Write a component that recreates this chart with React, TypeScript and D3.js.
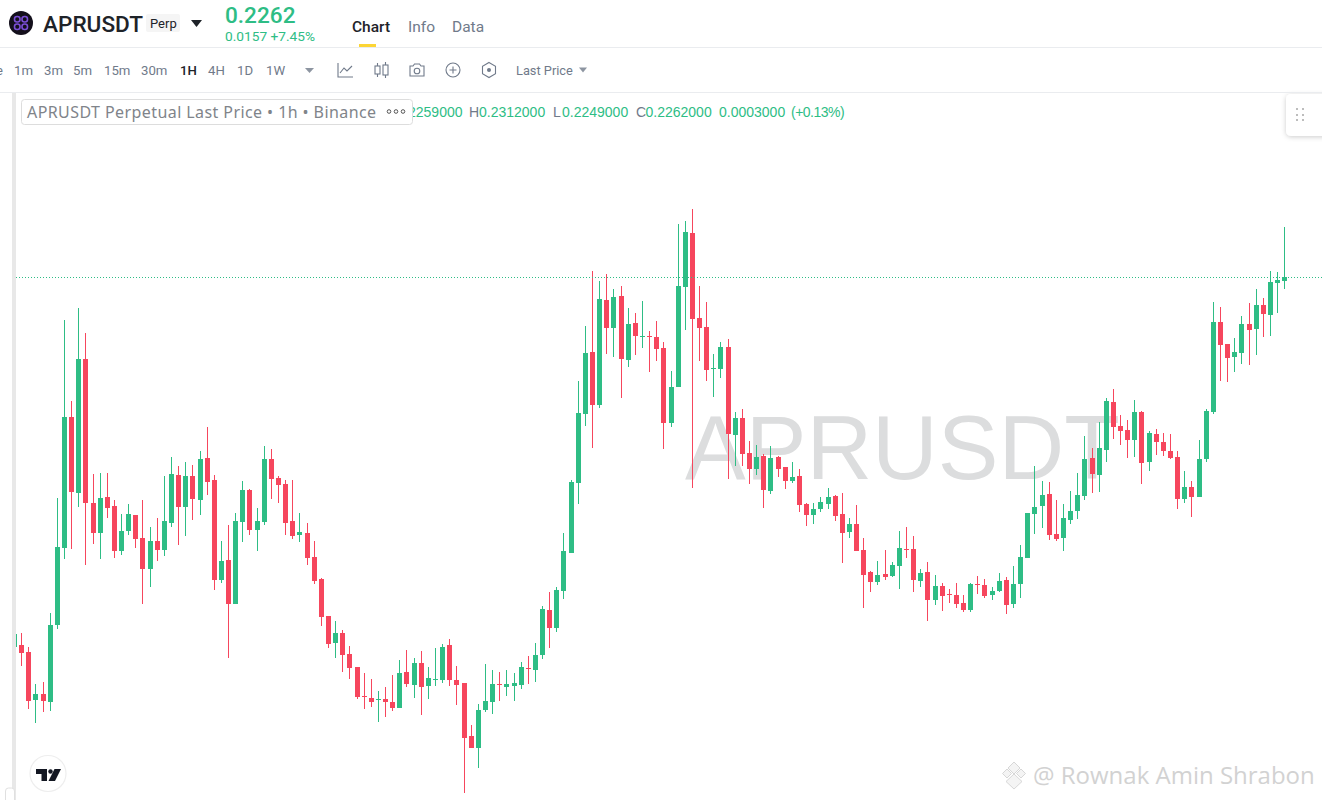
import { useRef, useEffect } from 'react'
import * as d3 from 'd3'

const symbol = 'APRUSDT'
const timeframes = ['1m', '3m', '5m', '15m', '30m', '1H', '4H', '1D', '1W']
const timeframeX = [14, 44, 73, 104, 141, 180, 208, 237, 266]
const tabs = ['Chart', 'Info', 'Data']
const tabX = [352, 408, 452]
const lastPrice = 0.2262

// one entry per hourly candle, oldest first. the first one is cut off by the left edge
const highs = [
  0.1905, 0.1906, 0.1892, 0.1855, 0.1857, 0.1926, 0.2041, 0.2219, 0.2138, 0.2231, 0.2206,
  0.2065, 0.2066, 0.2066, 0.2039, 0.2025, 0.2035, 0.2024, 0.2039, 0.2012, 0.2021,
  0.2063, 0.2082, 0.2073, 0.2077, 0.2074, 0.2088, 0.2112, 0.2064, 0.1998, 0.2014,
  0.2026, 0.2058, 0.205, 0.2031, 0.2093, 0.209, 0.2063, 0.2059, 0.2059, 0.2026,
  0.2016, 0.1998, 0.1961, 0.1923, 0.1918, 0.1909, 0.1893, 0.1872, 0.1866, 0.186,
  0.1848, 0.1852, 0.1864, 0.1879, 0.1889, 0.1881, 0.1888, 0.1872, 0.1891, 0.1895,
  0.19, 0.1873, 0.1856, 0.1814, 0.1835, 0.1875, 0.1869, 0.1867, 0.1869, 0.1866,
  0.1877, 0.1883, 0.1896, 0.1933, 0.1947, 0.1952, 0.2006, 0.2059, 0.2158, 0.2213,
  0.2268, 0.2258, 0.2265, 0.225, 0.2253, 0.2231, 0.2226, 0.2238, 0.2208, 0.2218,
  0.2197, 0.2168, 0.2315, 0.2318, 0.233, 0.2253, 0.2237, 0.2185, 0.2197, 0.22,
  0.2127, 0.213, 0.2098, 0.2094, 0.2085, 0.2093, 0.2083, 0.2072, 0.2077, 0.207,
  0.2036, 0.2036, 0.2042, 0.2051, 0.2044, 0.2046, 0.2021, 0.2034, 0.2001, 0.1968,
  0.1978, 0.1989, 0.1977, 0.2008, 0.2012, 0.2003, 0.197, 0.1977, 0.1964, 0.1956,
  0.195, 0.1956, 0.1944, 0.1956, 0.1963, 0.196, 0.1952, 0.1966, 0.1962, 0.1973,
  0.1994, 0.2026, 0.2073, 0.2058, 0.2057, 0.2039, 0.2035, 0.2048, 0.2066, 0.2103,
  0.2091, 0.2117, 0.2141, 0.215, 0.2124, 0.2119, 0.2139, 0.2128, 0.2108, 0.211,
  0.2106, 0.2105, 0.2088, 0.2068, 0.2058, 0.2099, 0.213, 0.2237, 0.2232, 0.2195,
  0.2201, 0.2223, 0.2236, 0.225, 0.2241, 0.2268, 0.2267, 0.2312,
]

const lows = [
  0.1892, 0.1873, 0.183, 0.1816, 0.1827, 0.1828, 0.191, 0.198, 0.199, 0.2032, 0.1974,
  0.1995, 0.198, 0.2021, 0.1981, 0.1984, 0.2004, 0.1991, 0.1935, 0.1952, 0.1978,
  0.1983, 0.2012, 0.1994, 0.2003, 0.2019, 0.2024, 0.2044, 0.1949, 0.1956, 0.1881,
  0.1935, 0.1997, 0.2004, 0.1988, 0.2014, 0.204, 0.2036, 0.2004, 0.2, 0.1997,
  0.1974, 0.1955, 0.1913, 0.1891, 0.1881, 0.1867, 0.186, 0.184, 0.183, 0.1832,
  0.1817, 0.1822, 0.1828, 0.1831, 0.1852, 0.1841, 0.1824, 0.184, 0.1853, 0.1856,
  0.1853, 0.1834, 0.1746, 0.1791, 0.1771, 0.1827, 0.1825, 0.1838, 0.1843, 0.1838,
  0.185, 0.1855, 0.1857, 0.188, 0.1891, 0.1907, 0.194, 0.1986, 0.2035, 0.2113,
  0.2091, 0.2131, 0.2185, 0.2182, 0.2141, 0.2172, 0.2184, 0.2191, 0.2167, 0.2178,
  0.209, 0.2112, 0.2152, 0.2209, 0.2051, 0.2178, 0.2158, 0.2142, 0.2161, 0.206,
  0.2073, 0.2073, 0.2055, 0.2064, 0.2031, 0.2045, 0.2062, 0.205, 0.2056, 0.2027,
  0.2013, 0.2015, 0.2027, 0.203, 0.2018, 0.1976, 0.2001, 0.1988, 0.1931, 0.1947,
  0.1954, 0.1959, 0.1962, 0.195, 0.1981, 0.1947, 0.1952, 0.1918, 0.1934, 0.1928,
  0.1936, 0.1931, 0.1927, 0.1927, 0.1945, 0.1941, 0.1939, 0.1947, 0.1925, 0.1931,
  0.1941, 0.1981, 0.2005, 0.2011, 0.1999, 0.1998, 0.1988, 0.2015, 0.202, 0.2039,
  0.2046, 0.2047, 0.2077, 0.21, 0.2094, 0.2081, 0.2082, 0.2055, 0.2068, 0.2084,
  0.2083, 0.208, 0.203, 0.2036, 0.2022, 0.2042, 0.2077, 0.2125, 0.2158, 0.2157,
  0.2167, 0.2175, 0.2174, 0.2184, 0.2202, 0.2203, 0.2226, 0.225,
]

const opens = [
  0.1898, 0.1894, 0.1887, 0.1839, 0.1845, 0.1837, 0.1914, 0.1991, 0.2122, 0.2046, 0.218,
  0.2036, 0.2006, 0.2042, 0.2033, 0.1988, 0.2008, 0.2024, 0.2001, 0.197, 0.1998,
  0.1989, 0.2016, 0.2064, 0.2032, 0.2063, 0.2039, 0.2081, 0.2059, 0.1959, 0.1979,
  0.1935, 0.2017, 0.2049, 0.2009, 0.2017, 0.208, 0.2061, 0.2055, 0.2018, 0.2004,
  0.2006, 0.1982, 0.196, 0.1923, 0.1896, 0.1906, 0.1885, 0.1872, 0.1843, 0.1841,
  0.1839, 0.184, 0.1837, 0.1831, 0.1867, 0.1854, 0.1876, 0.1853, 0.1859, 0.1859,
  0.1894, 0.1859, 0.1856, 0.1803, 0.1791, 0.1829, 0.1837, 0.1855, 0.1852, 0.1853,
  0.1854, 0.1871, 0.1869, 0.1884, 0.1929, 0.1911, 0.1948, 0.1986, 0.2056, 0.2125,
  0.2187, 0.2134, 0.2239, 0.2211, 0.2243, 0.2179, 0.2216, 0.2202, 0.2203, 0.2202,
  0.2191, 0.2116, 0.2152, 0.2252, 0.2306, 0.2221, 0.2212, 0.217, 0.217, 0.2192,
  0.2104, 0.2121, 0.2086, 0.207, 0.2083, 0.2048, 0.2082, 0.2072, 0.2058, 0.2063,
  0.2035, 0.2024, 0.203, 0.2035, 0.2043, 0.2025, 0.2007, 0.2015, 0.1989, 0.1967,
  0.1957, 0.1965, 0.1963, 0.1973, 0.199, 0.199, 0.1958, 0.1967, 0.1939, 0.1953,
  0.1945, 0.1944, 0.1936, 0.1929, 0.1955, 0.1954, 0.1944, 0.1948, 0.1959, 0.1935,
  0.1955, 0.1981, 0.2025, 0.2033, 0.2045, 0.2005, 0.2001, 0.2019, 0.2028, 0.2043,
  0.2081, 0.2064, 0.2089, 0.2137, 0.2113, 0.2109, 0.2099, 0.2127, 0.2077, 0.2105,
  0.2097, 0.2088, 0.2082, 0.204, 0.2052, 0.2042, 0.208, 0.2127, 0.2217, 0.2195,
  0.2182, 0.2186, 0.2215, 0.221, 0.2234, 0.2224, 0.2256, 0.2258,
]

const closes = [
  0.1898, 0.1886, 0.1838, 0.1845, 0.1838, 0.1914, 0.1992, 0.2122, 0.2047, 0.218, 0.2036,
  0.2006, 0.2041, 0.2031, 0.1988, 0.2008, 0.2025, 0.2, 0.197, 0.1998, 0.1989,
  0.2018, 0.2065, 0.2032, 0.2063, 0.204, 0.208, 0.2057, 0.1959, 0.1978, 0.1935,
  0.2018, 0.2049, 0.2009, 0.2018, 0.208, 0.206, 0.2054, 0.2016, 0.2003, 0.2007,
  0.1981, 0.1958, 0.1922, 0.1895, 0.1906, 0.1884, 0.1871, 0.1842, 0.1842, 0.1837,
  0.184, 0.1837, 0.1831, 0.1866, 0.1855, 0.1876, 0.1852, 0.1861, 0.186, 0.1892,
  0.1859, 0.1854, 0.1801, 0.1791, 0.1829, 0.1838, 0.1855, 0.1854, 0.1855, 0.1856,
  0.1872, 0.187, 0.1884, 0.193, 0.1911, 0.1949, 0.1988, 0.2057, 0.2126, 0.2186,
  0.2134, 0.224, 0.2211, 0.2242, 0.218, 0.2215, 0.2203, 0.2203, 0.2202, 0.219,
  0.2116, 0.2152, 0.2253, 0.2307, 0.222, 0.2211, 0.2169, 0.2171, 0.2192, 0.2105,
  0.2121, 0.2085, 0.207, 0.2082, 0.2049, 0.2081, 0.207, 0.2058, 0.2062, 0.2034,
  0.2024, 0.203, 0.2037, 0.2042, 0.2023, 0.2006, 0.2015, 0.1988, 0.1964, 0.1957,
  0.1964, 0.1962, 0.1974, 0.1991, 0.1989, 0.1959, 0.1966, 0.1939, 0.1953, 0.1943,
  0.1944, 0.1935, 0.1929, 0.1955, 0.1954, 0.1943, 0.1948, 0.1958, 0.1934, 0.1955,
  0.1982, 0.2026, 0.2032, 0.2044, 0.2004, 0.2, 0.2021, 0.2028, 0.2044, 0.208,
  0.2065, 0.2091, 0.2138, 0.2112, 0.2108, 0.2099, 0.2127, 0.2076, 0.2106, 0.2097,
  0.2088, 0.2081, 0.204, 0.2052, 0.2042, 0.208, 0.2128, 0.2217, 0.2194, 0.2181,
  0.2187, 0.2215, 0.2209, 0.2234, 0.2225, 0.2257, 0.2259, 0.2262,
]

const GREEN = '#2EBD85'
const RED = '#F6465D'
const GRAY = '#707A8A'
const DARK = '#1E2329'
const LINE = '#EAECEF'

const UI_FONT = 'Roboto, "Liberation Sans", sans-serif'
const NUM_FONT = '"Liberation Sans", sans-serif'

const width = 1322
const height = 800
const plotLeft = 16

// the partial candle on the left edge does not sit on the regular spacing
const firstSlot = 0.3

const Candles = () => {
  const elRef = useRef<SVGGElement>(null)

  useEffect(() => {
    const x = d3.scaleLinear().domain([1, 178]).range([21.65, 1284.7])
    const y = d3.scaleLinear().domain([0.2339, 0.1739]).range([200, 800])

    const g = d3.select(elRef.current as SVGGElement)
    g.selectAll('*').remove()

    const slots = d3.range(highs.length)
    const cx = (i: number) => Math.floor(x(i === 0 ? firstSlot : i))
    const color = (i: number) => (closes[i] >= opens[i] ? GREEN : RED)

    g.selectAll('rect.wick')
      .data(slots)
      .enter()
      .append('rect')
      .attr('class', 'wick')
      .attr('x', (i) => cx(i))
      .attr('y', (i) => Math.round(y(highs[i])))
      .attr('width', 1)
      .attr('height', (i) => Math.round(y(lows[i])) - Math.round(y(highs[i])))
      .attr('fill', color)

    g.selectAll('rect.body')
      .data(slots)
      .enter()
      .append('rect')
      .attr('class', 'body')
      .attr('x', (i) => cx(i) - 2)
      .attr('y', (i) => Math.round(y(Math.max(opens[i], closes[i]))))
      .attr('width', 5)
      .attr('height', (i) => Math.round(y(Math.min(opens[i], closes[i]))) - Math.round(y(Math.max(opens[i], closes[i]))))
      .attr('fill', color)

    g.append('line')
      .attr('x1', plotLeft)
      .attr('x2', width)
      .attr('y1', Math.round(y(lastPrice)) + 0.5)
      .attr('y2', Math.round(y(lastPrice)) + 0.5)
      .attr('stroke', GREEN)
      .attr('stroke-dasharray', '1 2')
  }, [])

  return <g ref={elRef} shapeRendering="crispEdges"></g>
}

const Header = () => (
  <g fontFamily={UI_FONT}>
    <circle cx={21} cy={23} r={12} fill="#14101C" />
    <g fill="none" stroke="#7B4FD6" strokeWidth={1.6}>
      <rect x={14.5} y={16.5} width={5.5} height={5.5} rx={2.5} />
      <rect x={22} y={16.5} width={5.5} height={5.5} rx={2.5} />
      <rect x={14.5} y={24} width={5.5} height={5.5} rx={2.5} />
      <rect x={22} y={24} width={5.5} height={5.5} rx={2.5} />
    </g>
    <text x={43} y={32} fontSize={22.6} fontWeight={500} fill={DARK}>{symbol}</text>
    <rect x={146} y={14} width={34} height={18} rx={2} fill="#F5F5F5" />
    <text x={150} y={28} fontSize={13} fill={DARK}>Perp</text>
    <path d="M191 20 H202 L196.5 27 Z" fill={DARK} />
    <text x={225} y={23} fontSize={22.6} fontWeight={500} fill={GREEN}>0.2262</text>
    <text x={225} y={41} fontSize={13.7} fill={GREEN}>0.0157 +7.45%</text>
    {tabs.map((t, i) => (
      <text key={t} x={tabX[i]} y={32} fontSize={15.5} fontWeight={i === 0 ? 500 : 400} fill={i === 0 ? DARK : GRAY}>{t}</text>
    ))}
    <rect x={359} y={44} width={17} height={3} fill="#FCD535" />
    <line x1={0} x2={width} y1={47.5} y2={47.5} stroke={LINE} />
  </g>
)

const Toolbar = () => (
  <g fontFamily={UI_FONT}>
    <text x={-4} y={75} fontSize={13} fill={GRAY}>e</text>
    {timeframes.map((t, i) => (
      <text key={t} x={timeframeX[i]} y={75} fontSize={13.2} fontWeight={t === '1H' ? 500 : 400} fill={t === '1H' ? DARK : GRAY}>{t}</text>
    ))}
    <path d="M305 68 H314 L309.5 73 Z" fill={GRAY} opacity={0.8} />
    <g fill="none" stroke={GRAY} strokeWidth={1.1}>
      <path d="M338 63 V77 H353" />
      <path d="M340 73 L344 68 L347 71 L352 66" />
      <rect x={375} y={66} width={5} height={8} />
      <rect x={383} y={65} width={5} height={10} />
      <path d="M377.5 63 V66 M377.5 74 V77 M385.5 62 V65 M385.5 75 V78" />
      <path d="M410 66 H413 L414.5 64 H419.5 L421 66 H424 V76 H410 Z" />
      <circle cx={417} cy={71} r={2.8} />
      <circle cx={453} cy={70} r={7} />
      <path d="M453 66.5 V73.5 M449.5 70 H456.5" />
      <path d="M489 62.5 L495.5 66.2 V73.8 L489 77.5 L482.5 73.8 V66.2 Z" />
    </g>
    <circle cx={489} cy={70} r={2} fill={GRAY} />
    <text x={516} y={75} fontSize={12.8} fill={GRAY}>Last Price</text>
    <path d="M579 67.5 H587 L583 72.5 Z" fill={GRAY} opacity={0.8} />
    <line x1={0} x2={width} y1={92.5} y2={92.5} stroke={LINE} />
  </g>
)

const Legend = () => (
  <g>
    <g fontFamily={NUM_FONT} fontSize={14}>
      <text x={408} y={117} fill={GREEN}>2259000</text>
      <text x={469} y={117} fill={GRAY}>H</text>
      <text x={479} y={117} fill={GREEN}>0.2312000</text>
      <text x={553} y={117} fill={GRAY}>L</text>
      <text x={562} y={117} fill={GREEN}>0.2249000</text>
      <text x={636} y={117} fill={GRAY}>C</text>
      <text x={645.5} y={117} fill={GREEN}>0.2262000</text>
      <text x={719} y={117} fill={GREEN}>0.0003000</text>
      <text x={791} y={117} letterSpacing={-0.5} fill={GREEN}>(+0.13%)</text>
    </g>
    <rect x={21.5} y={99.5} width={391} height={25} rx={3} fill="#fff" stroke="#DDDDDD" />
    <text x={27} y={118} fontFamily='"Noto Sans", sans-serif' fontSize={16} letterSpacing={0.42} fill="#80848A">
      APRUSDT Perpetual Last Price • 1h • Binance
    </text>
    <g fill="none" stroke="#555">
      <circle cx={389} cy={111.5} r={1.8} />
      <circle cx={396} cy={111.5} r={1.8} />
      <circle cx={403} cy={111.5} r={1.8} />
    </g>
  </g>
)

const Watermarks = () => (
  <g>
    <text x={685} y={479} fontFamily={NUM_FONT} fontSize={91} fill="#DCDDDE">{symbol}</text>
  </g>
)

const Overlays = () => (
  <g>
    <defs>
      <filter id="soft" x="-30%" y="-30%" width="160%" height="160%">
        <feDropShadow dx={0} dy={1} stdDeviation={2.5} floodColor="#000" floodOpacity={0.2} />
      </filter>
    </defs>
    <rect x={1286} y={94} width={50} height={42} rx={5} fill="#fff" filter="url(#soft)" />
    <g fill="#BDBDBD">
      {[108, 114, 119].map((cy) =>
        [1296, 1302].map((cx) => <rect key={`${cx}-${cy}`} x={cx} y={cy} width={2} height={2} />),
      )}
    </g>

    <circle cx={48} cy={773.5} r={18} fill="#fff" stroke="#EEEEEE" strokeWidth={1.2} />
    <path d="M36 769 H47 V781 H41.5 V774 H36 Z" fill="#131722" />
    <circle cx={50.5} cy={771.5} r={2.2} fill="#131722" />
    <path d="M54.5 769 H61 L55 781 H48.5 Z" fill="#131722" />
    <rect x={5.5} y={788} width={9} height={20} rx={3} fill="#fff" stroke="#E0E0E0" />

    <g fill="#F4F4F4" stroke="#D2D2D2" strokeWidth={0.9}>
      <path d="M1014 762 L1020 768 L1014 774 L1008 768 Z" />
      <path d="M1007 769 L1011.5 773.5 L1007 778 L1002.5 773.5 Z" />
      <path d="M1021 769 L1025.5 773.5 L1021 778 L1016.5 773.5 Z" />
      <path d="M1014 774 L1022 781.5 L1014 789 L1006 781.5 Z" />
    </g>
    <text x={1033} y={784} fontFamily='"Open Sans", sans-serif' fontSize={24} fill="#D2D2D2">
      @ Rownak Amin Shrabon
    </text>
  </g>
)

export default function App() {
  return (
    <svg
      width={width}
      height={height}
      viewBox={`0 0 ${width} ${height}`}
      style={{ position: 'fixed', left: 0, top: 0, background: '#fff' }}
    >
      <rect x={12} y={93} width={4} height={707} fill="#E8E8E8" />
      <Watermarks />
      <Candles />
      <Legend />
      <Overlays />
      <Header />
      <Toolbar />
    </svg>
  )
}
